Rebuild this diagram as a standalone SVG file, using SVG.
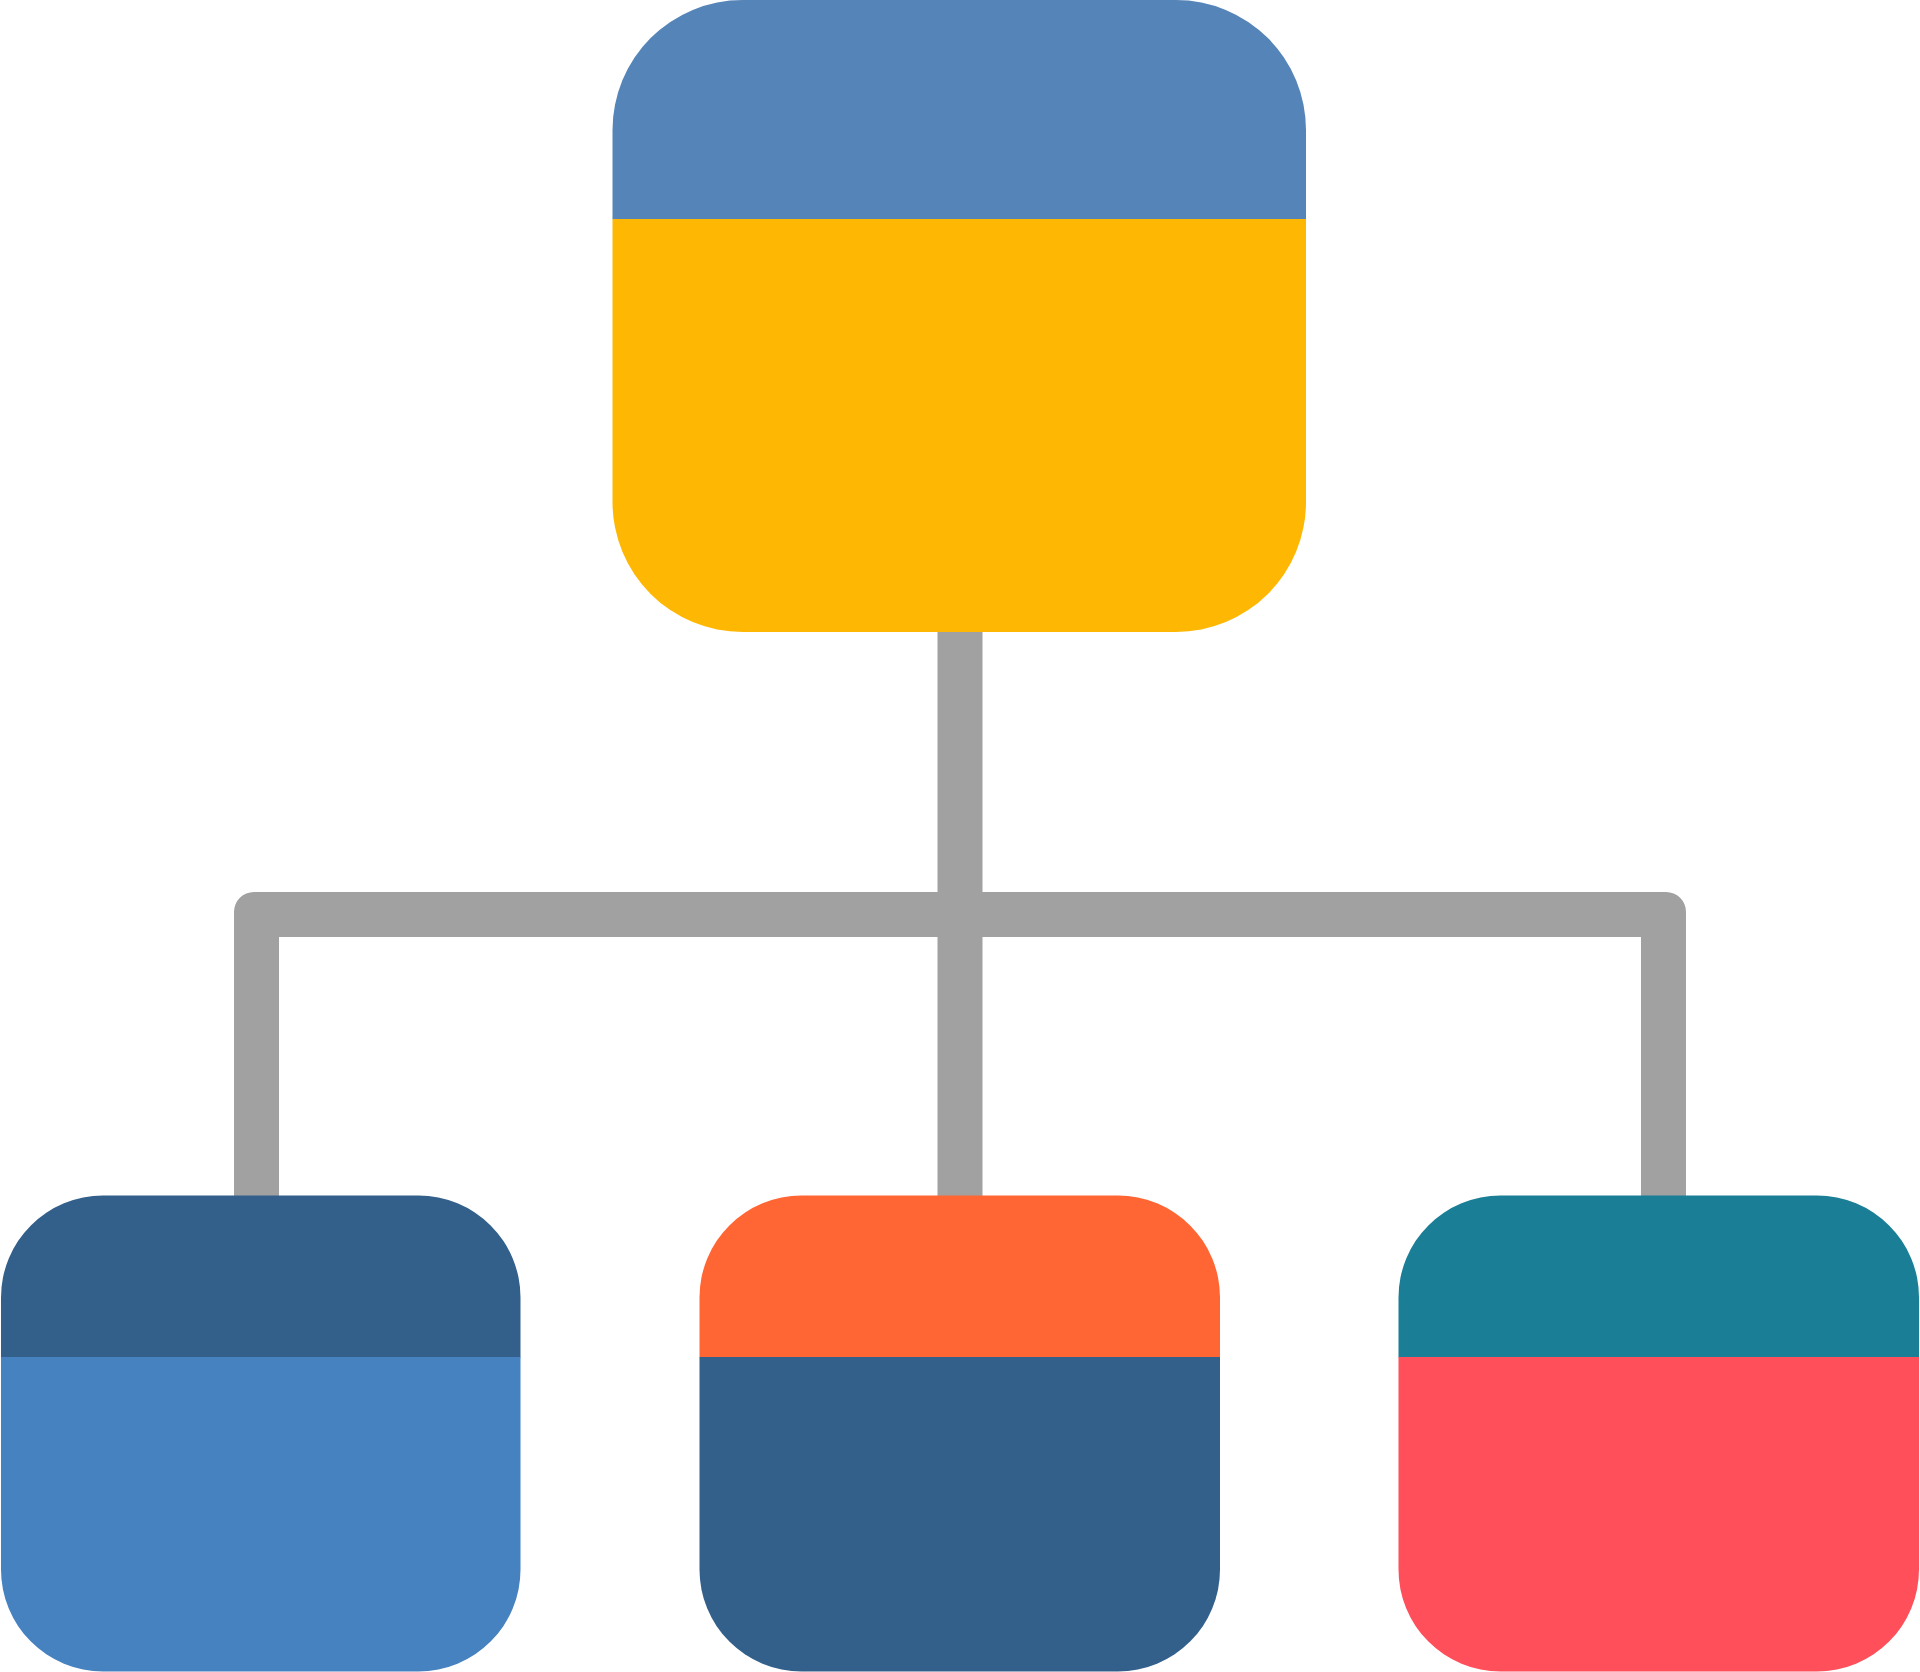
<svg xmlns="http://www.w3.org/2000/svg" width="1920" height="1672" viewBox="0 0 1920 1672">
<style>
.conn{fill:#A1A1A1}
</style>
<rect width="1920" height="1672" fill="#FFFFFF"/>
<g id="connectors">
<rect class="conn" x="937.5" y="628" width="45" height="570"/>
<path class="conn" d="M234,1198 V912 A20,20 0 0 1 254,892 H1666 A20,20 0 0 1 1686,912 V1198 H1641 V937 H279 V1198 Z"/>
</g>
<g id="node-top">
<path fill="#5584B8" d="M612.5,130 A130,130 0 0 1 742.5,0 H1176 A130,130 0 0 1 1306,130 V219.5 H612.5 Z"/>
<path fill="#FEB803" d="M612.5,219 H1306 V502 A130,130 0 0 1 1176,632 H742.5 A130,130 0 0 1 612.5,502 Z"/>
</g>
<g id="node-left">
<path fill="#33608B" d="M1,1297.5 A102,102 0 0 1 103,1195.5 H418.5 A102,102 0 0 1 520.5,1297.5 V1357.5 H1 Z"/>
<path fill="#4682BF" d="M1,1357 H520.5 V1569.5 A102,102 0 0 1 418.5,1671.5 H103 A102,102 0 0 1 1,1569.5 Z"/>
</g>
<g id="node-middle">
<path fill="#FF6633" d="M699.5,1297.5 A102,102 0 0 1 801.5,1195.5 H1118 A102,102 0 0 1 1220,1297.5 V1357.5 H699.5 Z"/>
<path fill="#33608B" d="M699.5,1357 H1220 V1569.5 A102,102 0 0 1 1118,1671.5 H801.5 A102,102 0 0 1 699.5,1569.5 Z"/>
</g>
<g id="node-right">
<path fill="#1A7E96" d="M1398.5,1297.5 A102,102 0 0 1 1500.5,1195.5 H1817 A102,102 0 0 1 1919,1297.5 V1357.5 H1398.5 Z"/>
<path fill="#FE4F5B" d="M1398.5,1357 H1919 V1569.5 A102,102 0 0 1 1817,1671.5 H1500.5 A102,102 0 0 1 1398.5,1569.5 Z"/>
</g>
</svg>
